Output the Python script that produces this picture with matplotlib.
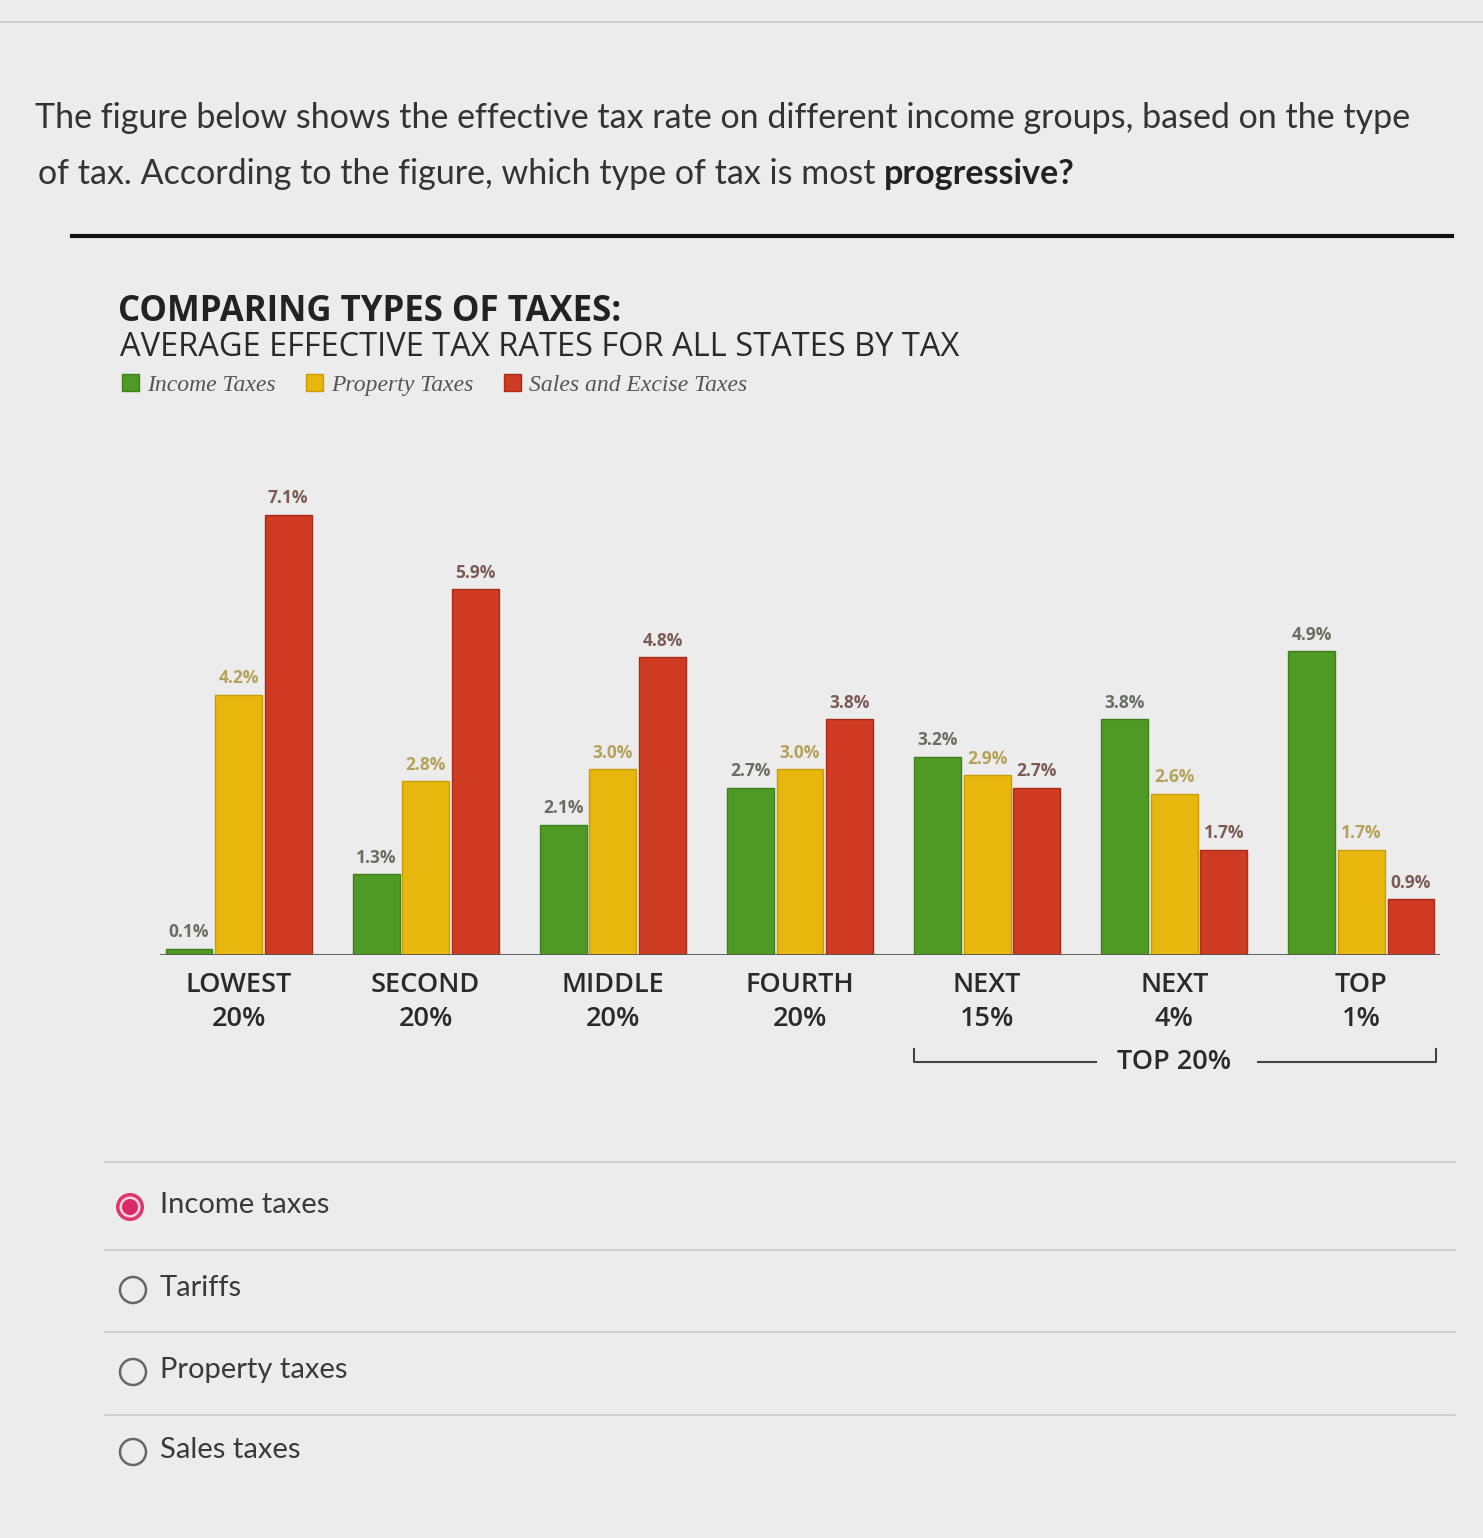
import matplotlib
matplotlib.use("Agg")
import matplotlib.pyplot as plt
from matplotlib.patches import Circle
import numpy as np

# data
groups = ["LOWEST\n20%", "SECOND\n20%", "MIDDLE\n20%", "FOURTH\n20%",
          "NEXT\n15%", "NEXT\n4%", "TOP\n1%"]
income = [0.1, 1.3, 2.1, 2.7, 3.2, 3.8, 4.9]
property_ = [4.2, 2.8, 3.0, 3.0, 2.9, 2.6, 1.7]
sales = [7.1, 5.9, 4.8, 3.8, 2.7, 1.7, 0.9]
series_names = ["Income Taxes", "Property Taxes", "Sales and Excise Taxes"]
options = ["Income taxes", "Tariffs", "Property taxes", "Sales taxes"]
selected = 0

bar_cols = ["#4f9a24", "#e8b70e", "#cf3a22"]
edge_cols = ["#3f7f1c", "#c99c08", "#a82c18"]
lab_cols = ["#6a6e60", "#b5a25a", "#7c5a55"]

W, H = 1483, 1538
bg = "#ececec"
fig = plt.figure(figsize=(W / 100, H / 100), dpi=100, facecolor=bg)

# background axes in pixel coordinates for the page furniture
bgax = fig.add_axes([0, 0, 1, 1], zorder=0)
bgax.set_xlim(0, W)
bgax.set_ylim(H, 0)
bgax.axis("off")

bgax.plot([0, W], [22, 22], color="#c8c8c8", lw=1.2)
bgax.plot([72, 1452], [236, 236], color="#111111", lw=3)

q1 = bgax.text(35, 118, "The figure below shows the effective tax rate on different income groups, based on the type",
               fontsize=24.5, family="Lato", color="#333333", va="center")
q2 = bgax.text(38, 174, "of tax. According to the figure, which type of tax is most ",
               fontsize=24.5, family="Lato", color="#333333", va="center")
bgax.annotate("progressive?", xy=(1, 0), xycoords=q2, xytext=(0, 0), textcoords="offset points",
              fontsize=24.5, family="Lato", fontweight="bold", color="#222222",
              ha="left", va="bottom")

bgax.text(118, 312, "COMPARING TYPES OF TAXES:", fontsize=25, family="Open Sans",
          fontweight="bold", color="#222222", va="center")
bgax.text(120, 348, "AVERAGE EFFECTIVE TAX RATES FOR ALL STATES BY TAX", fontsize=23.5,
          family="Open Sans", color="#2a2a2a", va="center")

# options area
for yy in [1162, 1250, 1332, 1415]:
    bgax.plot([105, 1455], [yy, yy], color="#cacaca", lw=1.2)
opt_y = [1207, 1290, 1372, 1452]
for i, (name, yy) in enumerate(zip(options, opt_y)):
    if i == selected:
        bgax.add_patch(Circle((130, yy), 14, facecolor="#e0346e", edgecolor="none"))
        bgax.add_patch(Circle((130, yy), 10.5, facecolor="#f7d5e1", edgecolor="none"))
        bgax.add_patch(Circle((130, yy), 8, facecolor="#d82a66", edgecolor="none"))
    else:
        bgax.add_patch(Circle((133, yy), 13, facecolor="none", edgecolor="#666666", lw=1.8))
    bgax.text(160, yy - 2, name, fontsize=21, family="Lato", color="#3a3a3a", va="center")

# chart axes
base_px = 955
px_per_unit = 62
ymax = 8
ax = fig.add_axes([160 / W, 1 - base_px / H, 1280 / W, ymax * px_per_unit / H], zorder=2)
ax.set_facecolor("none")
x = np.arange(len(groups))
bw = 0.25
off = 0.265
handles = []
for k, vals in enumerate([income, property_, sales]):
    xs = x + (k - 1) * off
    b = ax.bar(xs, vals, width=bw, color=bar_cols[k], edgecolor=edge_cols[k], lw=1,
               label=series_names[k], zorder=3)
    handles.append(b)
    for xi, v in zip(xs, vals):
        ax.text(xi, v + 0.12, f"{v:.1f}%", ha="center", va="bottom", fontsize=12.5,
                family="Open Sans", fontweight="bold", color=lab_cols[k])

ax.set_xlim(-0.42, 6.42)
ax.set_ylim(0, ymax)
ax.axhline(0, color="#555555", lw=2, zorder=4)
for s in ax.spines.values():
    s.set_visible(False)
ax.set_xticks([])
ax.set_yticks([])

for xi, g in zip(x, groups):
    ax.text(xi, -0.26, g, ha="center", va="top", fontsize=19.5, family="Open Sans",
            fontweight="semibold", color="#2a2a2a", linespacing=1.3, clip_on=False)

# TOP 20% bracket
yb = -1.72
ax.plot([4 - 0.39, 4 - 0.39, 5 - 0.42], [yb + 0.2, yb, yb], color="#444444", lw=1.5, clip_on=False)
ax.plot([5 + 0.45, 6 + 0.40, 6 + 0.40], [yb, yb, yb + 0.2], color="#444444", lw=1.5, clip_on=False)
ax.text(5, yb, "TOP 20%", ha="center", va="center", fontsize=19.5, family="Open Sans",
        fontweight="semibold", color="#2a2a2a", clip_on=False)

leg = ax.legend(handles=handles, loc="upper left", bbox_to_anchor=(122 / W, 1 - 374 / H),
                bbox_transform=fig.transFigure, ncol=3, frameon=False, borderaxespad=0,
                borderpad=0, handlelength=0.7, handleheight=0.7, handletextpad=0.35,
                columnspacing=1.3, prop={"family": "Liberation Serif", "style": "italic", "size": 17})
for t in leg.get_texts():
    t.set_color("#555555")

fig.savefig("out.png", dpi=100, facecolor=bg)
